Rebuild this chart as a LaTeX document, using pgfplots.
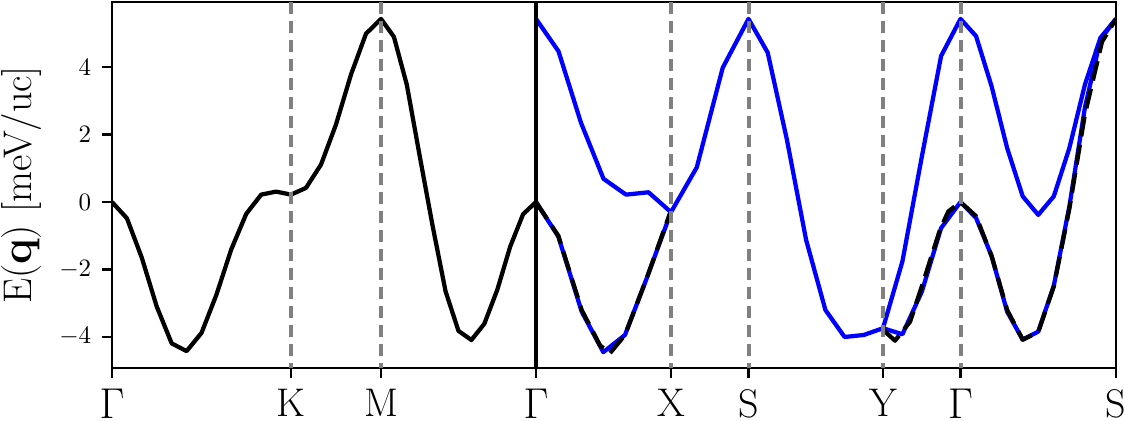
\documentclass[border=0pt]{standalone}
\usepackage{pgfplots}
\pgfplotsset{compat=1.18}
\begin{document}
\begin{tikzpicture}
\begin{axis}[name=ax, scale only axis, width=401.6pt, height=146.4pt,
  xmin=0, xmax=10.04, ymin=-4.92, ymax=5.93,
  xtick={0,1.79,2.69,4.24,5.59,6.365,7.71,8.485,10.04},
  xticklabels={$\Gamma$,K,M,$\Gamma$,X,S,Y,$\Gamma$,S},
  ytick={-4,-2,0,2,4},
  tick align=outside, xtick pos=left, ytick pos=left,
  major tick length=4pt,
  tick style={line width=1pt, black},
  axis line style={line width=1pt},
  xticklabel style={font=\fontsize{16}{19}\selectfont, inner sep=0pt, anchor=north, yshift=-4.3pt},
  yticklabel style={font=\fontsize{10.4}{12}\selectfont, inner sep=0pt, anchor=east, xshift=-4.1pt},
  ylabel={E($\mathbf{q}$) [meV/uc]},
  ylabel style={font=\fontsize{16}{19}\selectfont, at={(axis description cs:-0.0697,0.5)}, anchor=south, inner sep=0pt},
  every axis plot/.append style={line join=round},
]
% left (hexagonal path)
\addplot[black, line width=1.7pt] coordinates {
(0,0) (0.149,-0.48) (0.298,-1.65) (0.4475,-3.10) (0.597,-4.19) (0.746,-4.42) (0.895,-3.88) (1.044,-2.75) (1.193,-1.40) (1.3425,-0.35) (1.492,0.22) (1.641,0.31) (1.79,0.22)
(1.94,0.42) (2.09,1.11) (2.24,2.30) (2.39,3.78) (2.54,4.99) (2.69,5.43)
(2.819,4.90) (2.948,3.48) (3.078,1.35) (3.207,-0.72) (3.336,-2.65) (3.465,-3.82) (3.594,-4.09) (3.723,-3.61) (3.853,-2.60) (3.982,-1.32) (4.111,-0.36) (4.24,0)
};
% blue upper band
\addplot[blue, line width=1.7pt] coordinates {
(4.24,5.43) (4.465,4.47) (4.69,2.35) (4.915,0.69) (5.14,0.22) (5.365,0.29) (5.59,-0.30)
(5.848,1.03) (6.107,3.98) (6.365,5.43)
(6.557,4.43) (6.749,1.85) (6.941,-1.12) (7.134,-3.20) (7.326,-4.00) (7.518,-3.94) (7.71,-3.74)
(7.904,-1.76) (8.098,1.34) (8.291,4.33) (8.485,5.43)
(8.6405,4.92) (8.796,3.43) (8.9515,1.60) (9.107,0.17) (9.2625,-0.38) (9.418,0.17) (9.5735,1.60) (9.729,3.48) (9.8845,4.87) (10.04,5.43)
};
% blue lower band
\addplot[blue, line width=1.7pt] coordinates {
(4.24,0) (4.463,-1.02) (4.697,-3.25) (4.913,-4.45) (5.13,-3.94) (5.347,-2.26) (5.59,-0.30)
};
\addplot[blue, line width=1.7pt] coordinates {
(7.71,-3.74) (7.904,-3.92) (8.098,-2.66) (8.291,-0.77) (8.485,0)
(8.6405,-0.47) (8.796,-1.60) (8.9515,-3.25) (9.107,-4.08) (9.2625,-3.84) (9.418,-2.48) (9.5735,-0.13) (9.729,2.80) (9.8845,4.82) (10.04,5.43)
};
% black dashed
\addplot[black, line width=1.7pt, dash pattern=on 8pt off 3.4pt] coordinates {
(4.24,0) (4.463,-1.0) (4.697,-3.2) (4.88,-4.25) (4.98,-4.48) (5.13,-3.94) (5.347,-2.26) (5.58,-0.33)
};
\addplot[black, line width=1.7pt, dash pattern=on 8pt off 3.4pt] coordinates {
(7.73,-3.84) (7.83,-4.11) (7.98,-3.55) (8.097,-2.51) (8.28,-0.82) (8.363,-0.28) (8.485,0)
(8.6405,-0.42) (8.796,-1.60) (8.9515,-3.20) (9.107,-4.08) (9.2625,-3.85) (9.418,-2.50) (9.5735,-0.20) (9.729,2.60) (9.9,4.75) (10.04,5.43)
};
% vertical separators
\addplot[black, line width=1.6pt] coordinates {(4.24,-4.92) (4.24,5.93)};
\addplot[gray, line width=1.6pt, dash pattern=on 4.9pt off 2.7pt] coordinates {(1.79,5.93) (1.79,-4.92)};
\addplot[gray, line width=1.6pt, dash pattern=on 4.9pt off 2.7pt] coordinates {(2.69,5.93) (2.69,-4.92)};
\addplot[gray, line width=1.6pt, dash pattern=on 4.9pt off 2.7pt] coordinates {(5.59,5.93) (5.59,-4.92)};
\addplot[gray, line width=1.6pt, dash pattern=on 4.9pt off 2.7pt] coordinates {(6.365,5.93) (6.365,-4.92)};
\addplot[gray, line width=1.6pt, dash pattern=on 4.9pt off 2.7pt] coordinates {(7.71,5.93) (7.71,-4.92)};
\addplot[gray, line width=1.6pt, dash pattern=on 4.9pt off 2.7pt] coordinates {(8.485,5.93) (8.485,-4.92)};
\end{axis}
\pgfresetboundingbox
\path[use as bounding box] ([shift={(-44.8pt,-20.8pt)}]ax.south west) rectangle ([shift={(3.6pt,0.8pt)}]ax.north east);
\end{tikzpicture}
\end{document}
